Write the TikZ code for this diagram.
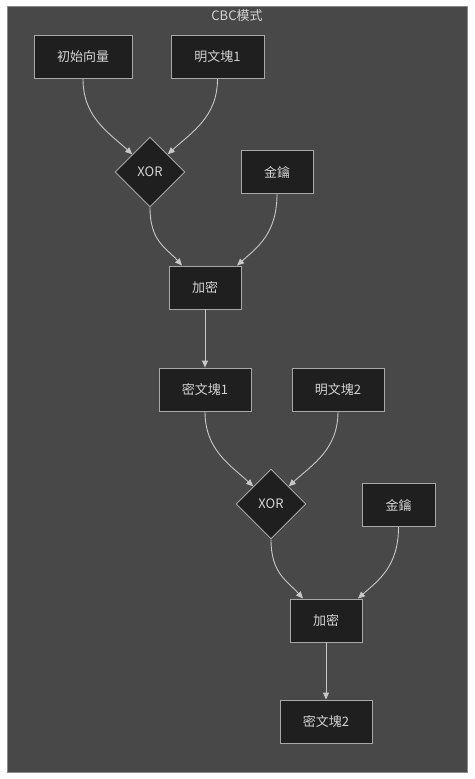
\documentclass[tikz,border=0pt]{standalone}
\usepackage{fontspec}
\setmainfont{Noto Sans CJK SC}
\usetikzlibrary{shapes.geometric,arrows.meta}
\definecolor{clusterbg}{HTML}{484848}
\definecolor{clusterline}{HTML}{8A8A8A}
\definecolor{nodefill}{HTML}{1F1F1F}
\definecolor{nodeline}{HTML}{A8A8A8}
\definecolor{txt}{HTML}{D4D4D4}
\definecolor{edge}{HTML}{C8C8C8}
\begin{document}
\begin{tikzpicture}[x=1pt,y=-1pt,
  every node/.style={font=\fontsize{13}{15}\selectfont, text=txt},
  box/.style={draw=nodeline, fill=nodefill, line width=0.9pt, inner sep=0pt, minimum height=43pt},
  xorbox/.style={diamond, draw=nodeline, fill=nodefill, line width=0.9pt, inner sep=0pt, minimum width=70pt, minimum height=70pt},
  link/.style={draw=edge, line width=0.9pt, -{Triangle[length=7pt,width=6pt]}}]
\useasboundingbox (0,0) rectangle (474,779);
\fill[white] (0,0) rectangle (474,779);
\draw[fill=clusterbg, draw=clusterline, line width=0.8pt] (7,6) rectangle (467,772);
\node (title) at (237,16) {CBC模式};

\node[box, minimum width=98pt] (iv) at (83,57) {初始向量};
\node[box, minimum width=93pt] (p1) at (217.5,57) {明文塊1};
\node[xorbox] (x1) at (150,172) {XOR};
\node[box, minimum width=72pt] (k1) at (277,172) {金鑰};
\node[box, minimum width=72pt] (e1) at (205,287.5) {加密};
\node[box, minimum width=92pt] (c1) at (205,389.5) {密文塊1};
\node[box, minimum width=92pt] (p2) at (338,389.5) {明文塊2};
\node[xorbox] (x2) at (271,504) {XOR};
\node[box, minimum width=73pt] (k2) at (398.5,505) {金鑰};
\node[box, minimum width=72pt] (e2) at (326,620.5) {加密};
\node[box, minimum width=92pt] (c2) at (326,721.5) {密文塊2};

\draw[link] (iv.south) .. controls ++(0,38) and ++(-24,-22) .. (x1.north west);
\draw[link] (p1.south) .. controls ++(0,38) and ++(24,-22) .. (x1.north east);
\draw[link] (x1.south) .. controls ++(0,34) and ++(-16,-18) .. ([xshift=-23pt]e1.north);
\draw[link] (k1.south) .. controls ++(0,40) and ++(20,-18) .. ([xshift=32pt]e1.north);
\draw[link] (e1.south) -- (c1.north);
\draw[link] (c1.south) .. controls ++(0,38) and ++(-24,-22) .. (x2.north west);
\draw[link] (p2.south) .. controls ++(0,38) and ++(24,-22) .. (x2.north east);
\draw[link] (x2.south) .. controls ++(0,34) and ++(-16,-18) .. ([xshift=-23pt]e2.north);
\draw[link] (k2.south) .. controls ++(0,40) and ++(20,-18) .. ([xshift=32pt]e2.north);
\draw[link] (e2.south) -- (c2.north);
\end{tikzpicture}
\end{document}
